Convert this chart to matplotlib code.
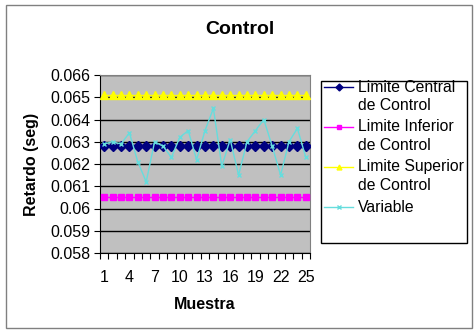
import matplotlib.pyplot as plt
from matplotlib.patches import Rectangle
from matplotlib.lines import Line2D

plt.rcParams['font.family'] = ['Liberation Sans', 'DejaVu Sans']

# datos
muestra = list(range(1, 26))
limite_central = [0.0628] * 25
limite_inferior = [0.0605] * 25
limite_superior = [0.0651] * 25
variable = [0.0629, 0.0630, 0.0629, 0.0634, 0.0621, 0.0612, 0.0630, 0.0628, 0.0623, 0.0632,
            0.0635, 0.0622, 0.0635, 0.0645, 0.0619, 0.0631, 0.0615, 0.0630, 0.0635, 0.0640,
            0.0628, 0.0615, 0.0630, 0.0636, 0.0623]
xtick_labels = ['1', '4', '7', '10', '13', '16', '19', '22', '25']
ytick_vals = [0.058, 0.059, 0.060, 0.061, 0.062, 0.063, 0.064, 0.065, 0.066]
ytick_labels = ['0.058', '0.059', '0.06', '0.061', '0.062', '0.063', '0.064', '0.065', '0.066']

W, H = 474, 333
fig = plt.figure(figsize=(W / 100, H / 100), dpi=100)
ax = fig.add_axes([100 / W, 1 - 253 / H, 210 / W, 178 / H])
ax.set_facecolor('#c0c0c0')

ax.plot(muestra, limite_central, color='#000080', marker='D', markersize=4.8, lw=1,
        label='Limite Central\nde Control', zorder=3)
ax.plot(muestra, limite_inferior, color='#ff00ff', marker='s', markersize=5, lw=1,
        label='Limite Inferior\nde Control', zorder=3)
ax.plot(muestra, limite_superior, color='#ffff00', marker='^', markersize=5.5, lw=1,
        label='Limite Superior\nde Control', zorder=3)
ax.plot(muestra, variable, color='#66dddd', marker='x', markersize=3.5, lw=1,
        label='Variable', zorder=4)

ax.set_xlim(0.5, 25.5)
ax.set_ylim(0.058, 0.066)
ax.set_yticks(ytick_vals)
ax.set_yticklabels(ytick_labels)
ax.set_xticks([int(t) for t in xtick_labels])
ax.set_xticklabels(xtick_labels)
ax.set_xticks([i + 0.5 for i in range(0, 26)], minor=True)
ax.tick_params(axis='x', which='major', length=0, pad=12, labelsize=11.5)
ax.tick_params(axis='x', which='minor', length=4, width=0.8)
ax.tick_params(axis='y', length=4, width=0.8, pad=3, labelsize=11.5)
ax.grid(axis='y', color='black', lw=1)
ax.set_axisbelow(True)
for s in ['top', 'right']:
    ax.spines[s].set_color('#808080')

ax.set_xlabel('Muestra', fontsize=11.5, fontweight='bold', labelpad=9)
ax.set_ylabel('Retardo (seg)', fontsize=11.5, fontweight='bold', labelpad=8)
fig.text(240 / W, 1 - 30 / H, 'Control', fontsize=14, fontweight='bold',
         ha='center', va='center')

# leyenda estilo Excel: marcador alineado con la primera linea del texto
fig.patches.append(Rectangle((321 / W, 1 - 243 / H), 146 / W, 162 / H,
                             transform=fig.transFigure, fill=False, ec='black', lw=1))
y = 87
for ln in ax.get_lines():
    yf = 1 - y / H
    fig.add_artist(Line2D([324 / W, 353 / W], [yf, yf], transform=fig.transFigure,
                          color=ln.get_color(), lw=1))
    fig.add_artist(Line2D([338.5 / W], [yf], transform=fig.transFigure, ls='none',
                          color=ln.get_color(), marker=ln.get_marker(), markersize=3.5))
    parts = ln.get_label().split('\n')
    for k, p in enumerate(parts):
        fig.text(358 / W, 1 - (y + k * 18.5) / H, p, fontsize=11.3, ha='left', va='center')
    y += 40

fig.patches.append(Rectangle((6 / W, 5 / H), 466 / W, 323 / H,
                             transform=fig.transFigure, fill=False, ec='#808080', lw=1))

fig.savefig('out.png', dpi=100)
